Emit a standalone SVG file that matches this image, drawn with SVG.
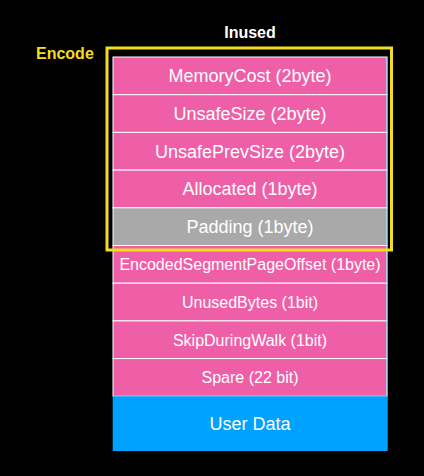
<svg xmlns="http://www.w3.org/2000/svg" width="424" height="476" viewBox="0 0 424 476">
<style>
.row{fill:#EF5FA7;stroke:#fff;stroke-width:1}
.pad{fill:#A9A9A9;stroke:#fff;stroke-width:1}
.ud{fill:#00A2FF}
.t18{font-family:"Liberation Sans",Arial,sans-serif;font-size:18px;fill:#fff;text-anchor:middle}
.t16{font-family:"Liberation Sans",Arial,sans-serif;font-size:16px;fill:#fff;text-anchor:middle}
.hd{font-family:"Liberation Sans",Arial,sans-serif;font-size:16px;font-weight:bold}
</style>
<rect width="424" height="476" fill="#000"/>
<g id="n-memorycost"><rect class="row" x="113" y="57" width="274" height="37.7"/><text class="t18" x="250" y="82.3">MemoryCost (2byte)</text></g>
<g id="n-unsafesize"><rect class="row" x="113" y="94.7" width="274" height="37.7"/><text class="t18" x="250" y="120">UnsafeSize (2byte)</text></g>
<g id="n-unsafeprevsize"><rect class="row" x="113" y="132.4" width="274" height="37.7"/><text class="t18" x="250" y="157.7">UnsafePrevSize (2byte)</text></g>
<g id="n-allocated"><rect class="row" x="113" y="170.1" width="274" height="37.7"/><text class="t18" x="250" y="195.4">Allocated (1byte)</text></g>
<g id="n-padding"><rect class="pad" x="113" y="207.8" width="274" height="37.7"/><text class="t18" x="250" y="233.1">Padding (1byte)</text></g>
<g id="n-encodedsegment"><rect class="row" x="113" y="245.5" width="274" height="37.7"/><text class="t16" x="250" y="270.1">EncodedSegmentPageOffset (1byte)</text></g>
<g id="n-unusedbytes"><rect class="row" x="113" y="283.2" width="274" height="37.7"/><text class="t16" x="250" y="307.8">UnusedBytes (1bit)</text></g>
<g id="n-skipduringwalk"><rect class="row" x="113" y="320.9" width="274" height="37.7"/><text class="t16" x="250" y="345.5">SkipDuringWalk (1bit)</text></g>
<g id="n-spare"><rect class="row" x="113" y="358.6" width="274" height="37.7"/><text class="t16" x="250" y="383.2">Spare (22 bit)</text></g>
<g id="n-userdata"><rect class="ud" x="112.7" y="396.3" width="275" height="54.7"/><text class="t18" x="250" y="430">User Data</text></g>
<line x1="386.8" y1="57" x2="386.8" y2="396.3" stroke="#9FD3F0" stroke-width="1"/>
<g id="n-encode"><rect x="107" y="48" width="284.5" height="202" fill="none" stroke="#F2DE1E" stroke-width="3"/><text class="hd" x="36" y="59" fill="#F2DE1E">Encode</text></g>
<g id="n-inused"><text class="hd" x="250" y="38.3" fill="#fff" text-anchor="middle">Inused</text></g>
<g id="connectors"></g>
</svg>
